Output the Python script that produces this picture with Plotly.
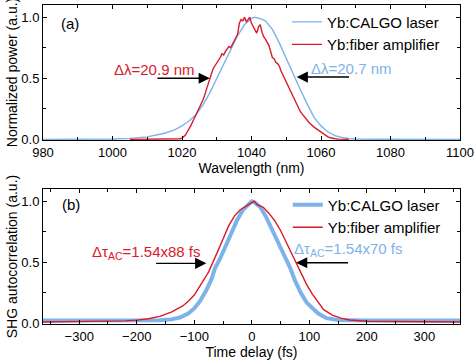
import plotly.graph_objects as go

# ---------------- data ----------------
# (a) spectra
wl_calgo = [980, 990, 1000, 1005, 1010, 1015, 1018, 1020, 1022, 1024, 1026, 1028, 1030, 1032,
            1034, 1036, 1038, 1040, 1041, 1042, 1043, 1044, 1046, 1048, 1050, 1052, 1054, 1056,
            1058, 1060, 1062, 1064, 1066, 1068, 1070, 1075, 1080, 1090, 1100]
pw_calgo = [0.0, 0.0, 0.003, 0.008, 0.02, 0.05, 0.08, 0.11, 0.15, 0.2, 0.28, 0.38, 0.5, 0.62,
            0.74, 0.85, 0.94, 0.99, 1.0, 0.995, 0.985, 0.97, 0.9, 0.79, 0.66, 0.53, 0.41, 0.29,
            0.18, 0.11, 0.06, 0.03, 0.015, 0.007, 0.003, 0.001, 0.0, 0.0, 0.0]

wl_fiber = [1005, 1010, 1015, 1018, 1019, 1019.5, 1020, 1020.5, 1021, 1021.5, 1022, 1022.5,
            1023, 1023.5, 1024, 1024.5, 1025, 1025.5, 1026, 1026.5, 1027, 1027.5, 1028, 1028.5,
            1029, 1029.5, 1030, 1030.5, 1031, 1031.5, 1032, 1032.5, 1033, 1033.5, 1034, 1034.5,
            1035, 1035.5, 1036, 1036.5, 1037, 1037.5, 1038, 1038.5, 1039, 1039.5, 1040, 1040.5,
            1041, 1041.5, 1042, 1042.5, 1043, 1043.5, 1044, 1044.5, 1045, 1045.5, 1046, 1046.5,
            1047, 1047.5, 1048, 1048.5, 1049, 1049.5, 1050, 1050.5, 1051, 1051.5, 1052, 1052.5,
            1053, 1053.5, 1054, 1054.5, 1055, 1055.5, 1056, 1056.5, 1057, 1057.5, 1058, 1058.5,
            1059, 1059.5, 1060, 1060.5, 1061, 1061.5, 1062, 1062.5, 1063, 1063.5, 1064, 1065,
            1066, 1068]
pw_fiber = [0.0, 0.0, 0.0, 0.0, 0.0, 0.005, 0.01, 0.02, 0.035, 0.06, 0.08, 0.11,
            0.14, 0.17, 0.2, 0.225, 0.26, 0.29, 0.32, 0.36, 0.41, 0.45, 0.5, 0.54,
            0.58, 0.6, 0.63, 0.65, 0.67, 0.7, 0.69, 0.72, 0.74, 0.76, 0.75, 0.78,
            0.8, 0.84, 0.86, 0.95, 0.98, 0.97, 1.0, 0.96, 0.98, 1.0, 0.95, 0.92,
            0.9, 0.87, 0.92, 0.94, 0.88, 0.84, 0.82, 0.79, 0.77, 0.72, 0.67, 0.66,
            0.63, 0.62, 0.6, 0.56, 0.53, 0.5, 0.47, 0.44, 0.41, 0.38, 0.35, 0.31,
            0.28, 0.25, 0.23, 0.21, 0.19, 0.17, 0.155, 0.14, 0.125, 0.11, 0.1, 0.09,
            0.08, 0.07, 0.055, 0.045, 0.035, 0.028, 0.02, 0.015, 0.01, 0.007, 0.005, 0.002,
            0.0, 0.0]

# (b) autocorrelation traces
td_calgo = [-363, -300, -250, -200, -160, -140, -125, -110, -100, -90, -80, -70, -64, -55, -45,
            -35, -25, -15, -5, 0, 5, 15, 25, 35, 45, 55, 67, 75, 85, 95, 105, 115, 130, 150,
            200, 250, 300, 362]
ac_calgo = [0.02, 0.02, 0.02, 0.02, 0.022, 0.03, 0.045, 0.08, 0.12, 0.18, 0.26, 0.36, 0.45,
            0.53, 0.64, 0.75, 0.85, 0.93, 0.98, 1.0, 0.99, 0.95, 0.87, 0.77, 0.66, 0.57, 0.45,
            0.35, 0.25, 0.17, 0.12, 0.08, 0.04, 0.025, 0.02, 0.02, 0.02, 0.02]

td_fiber = [-363, -300, -250, -220, -200, -180, -160, -140, -120, -110, -100, -90, -80, -75,
            -70, -60, -50, -40, -30, -20, -10, 0, 4, 10, 20, 30, 40, 50, 60, 70, 77, 85, 95,
            105, 115, 125, 140, 155, 170, 200, 250, 300, 362]
ac_fiber = [0.008, 0.01, 0.012, 0.018, 0.024, 0.035, 0.055, 0.09, 0.14, 0.18, 0.23, 0.3, 0.38,
            0.42, 0.47, 0.58, 0.69, 0.8, 0.88, 0.93, 0.96, 0.99, 1.0, 0.97, 0.95, 0.9, 0.84,
            0.76, 0.66, 0.56, 0.49, 0.42, 0.32, 0.24, 0.17, 0.11, 0.065, 0.04, 0.025, 0.015,
            0.012, 0.01, 0.008]

names = ["Yb:CALGO laser", "Yb:fiber amplifier"]
label_a_red = "Δλ=20.9 nm"
label_a_blue = "Δλ=20.7 nm"
label_b_red = "Δτ<sub>AC</sub>=1.54x88 fs"
label_b_blue = "Δτ<sub>AC</sub>=1.54x70 fs"

BLUE = "#7db3ea"
RED = "#d81a2a"
FONT = "Liberation Sans, Arial, sans-serif"

fig = go.Figure()
fig.add_trace(go.Scatter(x=wl_calgo, y=pw_calgo, mode="lines", name=names[0],
                         line=dict(color=BLUE, width=1.4), xaxis="x", yaxis="y", legend="legend"))
fig.add_trace(go.Scatter(x=wl_fiber, y=pw_fiber, mode="lines", name=names[1],
                         line=dict(color=RED, width=1.4), xaxis="x", yaxis="y", legend="legend"))
fig.add_trace(go.Scatter(x=td_calgo, y=ac_calgo, mode="lines", name=names[0],
                         line=dict(color=BLUE, width=4), xaxis="x2", yaxis="y2", legend="legend2"))
fig.add_trace(go.Scatter(x=td_fiber, y=ac_fiber, mode="lines", name=names[1],
                         line=dict(color=RED, width=1.4), xaxis="x2", yaxis="y2", legend="legend2"))

axis_common = dict(showline=True, linecolor="black", linewidth=1, mirror="ticks",
                   ticks="inside", ticklen=4, tickcolor="black", tickwidth=1,
                   showgrid=False, zeroline=False, automargin=False,
                   tickfont=dict(family=FONT, size=13, color="black"))

TITLE_FONT = dict(family=FONT, size=14, color="black")

fig.update_layout(
    width=474, height=361,
    margin=dict(l=43, r=14, t=5, b=37),
    paper_bgcolor="white", plot_bgcolor="white",
    font=dict(family=FONT, size=15, color="black"),
    xaxis=dict(**axis_common, range=[980, 1100], dtick=20, anchor="y",
               minor=dict(ticks="inside", ticklen=3, dtick=10, tickcolor="black"),
               title=dict(text="Wavelength (nm)", font=TITLE_FONT, standoff=0)),
    yaxis=dict(**axis_common, range=[-0.005, 1.1], dtick=0.5, tickformat=".1f",
               domain=[0.577, 1.0], anchor="x",
               minor=dict(ticks="inside", ticklen=3, dtick=0.25, tickcolor="black"),
               title=dict(text="Normalized power (a.u.)", font=TITLE_FONT, standoff=0)),
    xaxis2=dict(**axis_common, range=[-363, 362], dtick=100, anchor="y2",
                minor=dict(ticks="inside", ticklen=3, dtick=50, tickcolor="black"),
                title=dict(text="Time delay (fs)", font=TITLE_FONT, standoff=0)),
    yaxis2=dict(**axis_common, range=[-0.008, 1.1], dtick=0.5, tickformat=".1f",
                domain=[0.0, 0.423], anchor="x2",
                minor=dict(ticks="inside", ticklen=3, dtick=0.25, tickcolor="black"),
                title=dict(text="SHG autocorrelation (a.u.)", font=TITLE_FONT, standoff=0)),
    legend=dict(x=0.585, y=0.998, xanchor="left", yanchor="top", bgcolor="rgba(0,0,0,0)",
                font=dict(family=FONT, size=15), tracegroupgap=0, itemwidth=30),
    legend2=dict(x=0.587, y=0.425, xanchor="left", yanchor="top", bgcolor="rgba(0,0,0,0)",
                 font=dict(family=FONT, size=15), tracegroupgap=0, itemwidth=30),
)

ann = []
def arrow(xref, yref, x, y, ax, ay):
    ann.append(dict(xref=xref, yref=yref, axref=xref, ayref=yref, x=x, y=y, ax=ax, ay=ay,
                    text="", showarrow=True, arrowhead=2, arrowsize=1.6, arrowwidth=1.4,
                    arrowcolor="black", standoff=0, startstandoff=0))

def label(xref, yref, x, y, text, color, size=15):
    ann.append(dict(xref=xref, yref=yref, x=x, y=y, text=text, showarrow=False,
                    font=dict(family=FONT, size=size, color=color)))

arrow("x", "y", 1028.0, 0.5, 1012.5, 0.5)
arrow("x", "y", 1053.0, 0.51, 1068.5, 0.51)
label("x", "y", 1011.8, 0.575, label_a_red, RED)
label("x", "y", 1068.7, 0.58, label_a_blue, BLUE)
label("x", "y", 987.9, 0.95, "(a)", "black")

arrow("x2", "y2", -79, 0.49, -169, 0.49)
arrow("x2", "y2", 77, 0.495, 170, 0.495)
label("x2", "y2", -183, 0.58, label_b_red, RED)
label("x2", "y2", 169, 0.60, label_b_blue, BLUE)
label("x2", "y2", -315, 0.97, "(b)", "black")

fig.update_layout(annotations=ann)
fig.write_html("out.html", config={"displayModeBar": False},
               post_script="document.body.style.margin='0px';document.body.style.padding='0px';")
